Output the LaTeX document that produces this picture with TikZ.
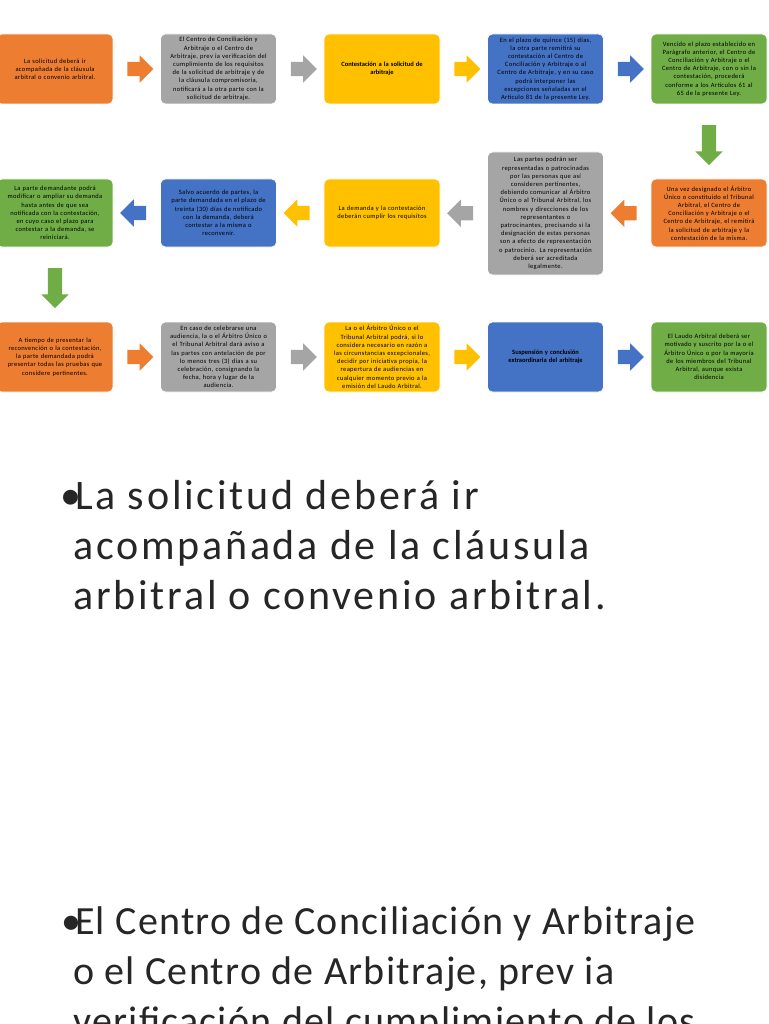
\documentclass[tikz,border=0pt]{standalone}
\usepackage{fontspec}
\setmainfont{Carlito}
\usetikzlibrary{shapes.arrows,calc}

\definecolor{cOrange}{HTML}{ED7D31}
\definecolor{cGray}{HTML}{A5A5A5}
\definecolor{cYellow}{HTML}{FFC000}
\definecolor{cBlue}{HTML}{4472C4}
\definecolor{cGreen}{HTML}{70AD47}

\begin{document}
\begin{tikzpicture}[x=1pt,y=1pt,yscale=-1,xscale=1,
  paso/.style={rounded corners=5pt, draw=white, line width=0.6pt, minimum width=116pt, minimum height=70pt, text width=114pt, inner sep=0pt, align=center, font=\fontsize{6.5}{8.2}\selectfont\addfontfeature{LetterSpace=5}, text=black},
  flecha/.style={single arrow, draw=none, minimum height=26pt, minimum width=27pt, inner sep=7pt, single arrow head extend=6.5pt},
  bigline/.style={anchor=base west, inner sep=0pt, font=\fontsize{42}{50}\selectfont\addfontfeature{LetterSpace=6.6}, text=black!85},
  bigline2/.style={bigline, font=\fontsize{40}{50}\selectfont\addfontfeature{LetterSpace=3.2}}]
\path[use as bounding box] (0,0) rectangle (768,1024);
\clip (0,0) rectangle (768,1024);

% Row 1
\node[paso, fill=cOrange] (solicitud) at (55,69) {La solicitud deberá ir\\acompañada de la cláusula\\arbitral o convenio arbitral.};
\node[paso, fill=cGray] (notifica) at (218.5,69) {El Centro de Conciliación y\\Arbitraje o el Centro de\\Arbitraje, prev ia verificación del\\cumplimiento de los requisitos\\de la solicitud de arbitraje y de\\la cláusula compromisoria,\\notificará a la otra parte con la\\solicitud de arbitraje.};
\node[paso, fill=cYellow, font=\fontsize{6.5}{8.2}\selectfont\bfseries] (contesta) at (382,69) {Contestación a la solicitud de\\arbitraje};
\node[paso, fill=cBlue] (plazo) at (545.5,69) {En el plazo de quince (15) días,\\la otra parte remitirá su\\contestación al Centro de\\Conciliación y Arbitraje o al\\Centro de Arbitraje, y en su caso\\podrá interponer las\\excepciones señaladas en el\\Artículo 81 de la presente Ley.};
\node[paso, fill=cGreen] (vencido) at (709,69) {Vencido el plazo establecido en\\Parágrafo anterior, el Centro de\\Conciliación y Arbitraje o el\\Centro de Arbitraje, con o sin la\\contestación, procederá\\conforme a los Artículos 61 al\\65 de la presente Ley.};

% Row 2
\node[paso, fill=cOrange, minimum height=68pt] (remite) at (709,213) {Una vez designado el Árbitro\\Único o constituido el Tribunal\\Arbitral, el Centro de\\Conciliación y Arbitraje o el\\Centro de Arbitraje, el remitirá\\la solicitud de arbitraje y la\\contestación de la misma.};
\node[paso, fill=cGray, minimum height=123pt] (partes) at (545.5,213.5) {Las partes podrán ser\\representadas o patrocinadas\\por las personas que así\\consideren pertinentes,\\debiendo comunicar al Árbitro\\Único o al Tribunal Arbitral, los\\nombres y direcciones de los\\representantes o\\patrocinantes, precisando si la\\designación de estas personas\\son a efecto de representación\\o patrocinio. La representación\\deberá ser acreditada\\legalmente.};
\node[paso, fill=cYellow, minimum height=68pt] (requisitos) at (382,213) {La demanda y la contestación\\deberán cumplir los requisitos};
\node[paso, fill=cBlue, minimum height=68pt] (salvo) at (218.5,213) {Salvo acuerdo de partes, la\\parte demandada en el plazo de\\treinta (30) días de notificado\\con la demanda, deberá\\contestar a la misma o\\reconvenir.};
\node[paso, fill=cGreen, minimum height=68pt] (amplia) at (55,213) {La parte demandante podrá\\modificar o ampliar su demanda\\hasta antes de que sea\\notificada con la contestación,\\en cuyo caso el plazo para\\contestar a la demanda, se\\reiniciará.};

% Row 3
\node[paso, fill=cOrange] (pruebas) at (55,357) {A tiempo de presentar la\\reconvención o la contestación,\\la parte demandada podrá\\presentar todas las pruebas que\\considere pertinentes.};
\node[paso, fill=cGray] (audiencia) at (218.5,357) {En caso de celebrarse una\\audiencia, la o el Árbitro Único o\\el Tribunal Arbitral dará aviso a\\las partes con antelación de por\\lo menos tres (3) días a su\\celebración, consignando la\\fecha, hora y lugar de la\\audiencia.};
\node[paso, fill=cYellow] (reapertura) at (382,357) {La o el Árbitro Único o el\\Tribunal Arbitral podrá, si lo\\considera necesario en razón a\\las circunstancias excepcionales,\\decidir por iniciativa propia, la\\reapertura de audiencias en\\cualquier momento previo a la\\emisión del Laudo Arbitral.};
\node[paso, fill=cBlue, font=\fontsize{6.5}{8.2}\selectfont\bfseries] (suspension) at (545.5,357) {Suspensión y conclusión\\extraordinaria del arbitraje};
\node[paso, fill=cGreen] (laudo) at (709,357) {El Laudo Arbitral deberá ser\\motivado y suscrito por la o el\\Árbitro Único o por la mayoría\\de los miembros del Tribunal\\Arbitral, aunque exista\\disidencia};

% Block arrows
\node[flecha, fill=cOrange] (f1) at ($(solicitud.east)!0.5!(notifica.west)$) {};
\node[flecha, fill=cGray] (f2) at ($(notifica.east)!0.5!(contesta.west)$) {};
\node[flecha, fill=cYellow] (f3) at ($(contesta.east)!0.5!(plazo.west)$) {};
\node[flecha, fill=cBlue] (f4) at ($(plazo.east)!0.5!(vencido.west)$) {};
\node[flecha, fill=cGreen, shape border rotate=270, minimum height=40pt] (f5) at ($(vencido.south)!0.5!(remite.north)$) {};
\node[flecha, fill=cOrange, shape border rotate=180] (f6) at ($(remite.west)!0.5!(partes.east)$) {};
\node[flecha, fill=cGray, shape border rotate=180] (f7) at ($(partes.west)!0.5!(requisitos.east)$) {};
\node[flecha, fill=cYellow, shape border rotate=180] (f8) at ($(requisitos.west)!0.5!(salvo.east)$) {};
\node[flecha, fill=cBlue, shape border rotate=180] (f9) at ($(salvo.west)!0.5!(amplia.east)$) {};
\node[flecha, fill=cGreen, shape border rotate=270, minimum height=40pt] (f10) at ($(amplia.south)!0.5!(pruebas.north)$) {};
\node[flecha, fill=cOrange] (f11) at ($(pruebas.east)!0.5!(audiencia.west)$) {};
\node[flecha, fill=cGray] (f12) at ($(audiencia.east)!0.5!(reapertura.west)$) {};
\node[flecha, fill=cYellow] (f13) at ($(reapertura.east)!0.5!(suspension.west)$) {};
\node[flecha, fill=cBlue] (f14) at ($(suspension.east)!0.5!(laudo.west)$) {};

% Text Node
\node[bigline] (ba) at (60,509) {•};
\node[bigline] (pa1) at (75,509) {La solicitud deberá ir};
\node[bigline] (pa2) at (73,559) {acompañada de la cláusula};
\node[bigline] (pa3) at (73,609) {arbitral o convenio arbitral.};
% Text Node
\node[bigline2] (bb) at (61,934) {•};
\node[bigline2] (pb1) at (75,934) {El Centro de Conciliación y Arbitraje};
\node[bigline2] (pb2) at (73,984) {o el Centro de Arbitraje, prev ia};
\node[bigline2] (pb3) at (73,1034) {verificación del cumplimiento de los};

\end{tikzpicture}
\end{document}
